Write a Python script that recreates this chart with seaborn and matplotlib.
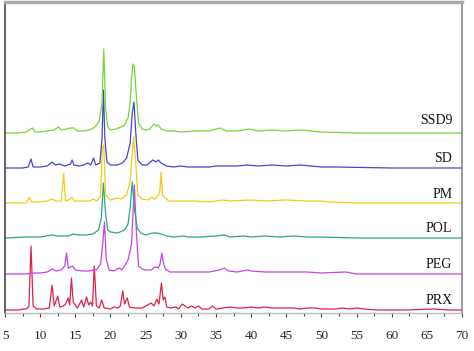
import matplotlib
matplotlib.use("Agg")
import matplotlib.pyplot as plt
from matplotlib.ticker import MultipleLocator
import seaborn as sns
import pandas as pd

# ---- data (2-theta positions and intensities above each trace's baseline) ----
samples = ["PRX", "PEG", "POL", "PM", "SD", "SSD9"]

prx_x = [5.0, 7.0, 7.5, 8.0, 8.4, 8.7, 9.0, 9.5, 10.5, 11.3, 11.7, 12.0, 12.5, 12.8, 13.3, 13.6,
         14.0, 14.2, 14.45, 14.7, 15.3, 15.9, 16.2, 16.6, 16.9, 17.2, 17.45, 17.7, 18.0, 18.4,
         18.75, 19.1, 20.0, 20.5, 21.0, 21.4, 21.75, 22.0, 22.4, 22.7, 23.5, 24.5, 25.3, 25.8,
         26.2, 26.6, 26.9, 27.25, 27.5, 27.75, 28.0, 28.6, 29.3, 29.7, 30.2, 30.6, 31.0, 31.5,
         32.0, 32.5, 33.0, 34.0, 34.5, 35.0, 36.0, 37.0, 38.0, 39.0, 40.0, 41.0, 42.0, 43.0,
         44.0, 45.0, 46.0, 47.0, 48.0, 49.0, 50.0, 52.0, 53.0, 54.0, 55.0, 56.0, 58.0, 62.0,
         66.0, 68.0, 70.0]
prx_y = [0, 0, 1, 1, 3, 64, 4, 1, 1, 2, 25, 4, 14, 3, 4, 6,
         12, 5, 32, 8, 2, 10, 3, 13, 5, 8, 4, 44, 4, 2,
         10, 2, 1, 3, 2, 4, 19, 6, 12, 3, 2, 2, 5, 7,
         4, 11, 6, 27, 10, 13, 3, 2, 3, 1, 6, 4, 2, 4,
         2, 4, 1, 1, 4, 1, 2, 3, 2, 2, 3, 2, 3, 2,
         2, 2, 2, 1, 2, 2, 1, 1, 2, 1, 2, 1, 0, 0,
         1, 0, 0]

peg_x = [5.0, 8.0, 9.0, 10.0, 11.0, 11.7, 12.3, 13.0, 13.5, 13.75, 14.0, 14.6, 15.0, 16.0, 17.0,
         17.5, 18.0, 18.6, 18.9, 19.15, 19.4, 19.8, 20.5, 21.0, 21.3, 21.6, 22.0, 22.5, 23.0,
         23.4, 23.7, 24.0, 24.5, 25.0, 25.8, 26.3, 26.8, 27.05, 27.3, 27.5, 27.8, 28.5, 30.0,
         32.0, 34.0, 35.5, 36.2, 36.8, 38.0, 39.5, 40.0, 42.0, 45.0, 48.0, 50.0, 53.5, 55.0,
         60.0, 70.0]
peg_y = [0, 0, 1, 1, 2, 5, 3, 4, 8, 21, 6, 8, 4, 3, 3,
         4, 4, 10, 30, 52, 15, 4, 3, 5, 6, 4, 8, 14, 30,
         89, 40, 8, 5, 4, 4, 7, 6, 10, 21, 12, 5, 2, 2,
         2, 2, 4, 6, 3, 2, 4, 3, 2, 2, 2, 1, 2, 0,
         0, 0]

pol_x = [5.0, 8.0, 9.0, 10.0, 11.7, 12.5, 14.0, 14.7, 15.5, 16.5, 17.5, 18.3, 18.7, 19.0, 19.3,
         19.6, 20.0, 21.0, 22.0, 22.5, 22.8, 23.1, 23.4, 23.8, 24.3, 25.0, 26.0, 26.6, 27.2,
         28.0, 29.0, 30.5, 31.0, 33.0, 35.0, 36.2, 37.0, 39.0, 40.0, 42.0, 44.0, 46.0, 48.0,
         50.0, 55.0, 70.0]
pol_y = [0, 1, 1, 1, 3, 2, 2, 4, 3, 3, 4, 8, 20, 55, 25,
         8, 6, 5, 8, 14, 30, 56, 30, 10, 5, 3, 5, 5, 4,
         2, 1, 2, 1, 1, 2, 3, 1, 2, 1, 2, 1, 2, 1,
         1, 0, 0]

pm_x = [5.0, 8.0, 8.5, 8.8, 10.0, 11.0, 11.7, 12.2, 13.0, 13.35, 13.6, 14.3, 14.5, 14.8, 16.0,
        17.0, 17.6, 18.0, 18.6, 18.85, 19.05, 19.3, 20.0, 21.0, 21.5, 22.3, 22.8, 23.1, 23.3,
        23.6, 23.9, 24.5, 25.3, 25.9, 26.3, 26.6, 27.0, 27.2, 27.4, 27.8, 28.3, 30.0, 32.0,
        34.0, 36.0, 37.0, 40.0, 42.0, 45.0, 48.0, 50.0, 51.0, 55.0, 70.0]
pm_y = [0, 0, 6, 1, 1, 2, 4, 2, 2, 30, 2, 4, 6, 2, 2,
        2, 4, 2, 6, 55, 58, 8, 3, 5, 4, 8, 22, 50, 66,
        40, 8, 4, 3, 6, 4, 6, 10, 31, 8, 5, 2, 2, 2,
        1, 3, 2, 3, 2, 3, 2, 2, 1, 0, 0]

sd_x = [5.0, 7.5, 8.3, 8.7, 9.0, 10.0, 11.0, 11.7, 12.2, 12.8, 13.5, 14.3, 14.55, 14.8, 15.5,
        16.2, 16.8, 17.2, 17.6, 17.9, 18.5, 18.8, 19.0, 19.2, 19.5, 20.0, 21.0, 21.7, 22.3,
        22.8, 23.1, 23.35, 23.6, 23.9, 24.5, 25.2, 26.0, 26.5, 26.8, 27.2, 28.0, 29.0, 30.0,
        31.0, 32.0, 33.0, 34.0, 35.0, 36.0, 38.0, 39.5, 41.0, 43.0, 45.0, 47.0, 48.5, 50.0,
        52.0, 60.0, 70.0]
sd_y = [0, 0, 1, 9, 1, 1, 2, 6, 3, 4, 2, 4, 8, 3, 2,
        3, 5, 3, 10, 3, 5, 30, 78, 30, 6, 3, 3, 5, 10,
        25, 55, 66, 35, 8, 3, 3, 8, 6, 8, 5, 2, 1, 2,
        1, 1, 1, 1, 2, 2, 2, 3, 2, 3, 2, 3, 2, 1,
        1, 0, 0]

ssd9_x = [5.0, 7.0, 8.0, 8.9, 9.3, 10.0, 11.0, 12.0, 12.6, 13.0, 13.8, 14.2, 14.8, 15.3, 16.0,
          17.0, 17.8, 18.4, 18.8, 19.05, 19.3, 19.6, 20.0, 20.8, 21.5, 22.0, 22.5, 22.8, 23.0,
          23.2, 23.4, 23.7, 24.0, 24.5, 25.0, 25.6, 26.2, 26.5, 26.8, 27.2, 28.0, 29.0, 30.0,
          32.0, 34.0, 35.6, 36.5, 38.0, 39.7, 41.0, 43.0, 45.0, 47.0, 50.0, 55.0, 70.0]
ssd9_y = [0, 0, 1, 5, 1, 1, 2, 3, 6, 3, 4, 5, 5, 2, 2,
          3, 6, 12, 30, 84, 25, 6, 3, 4, 6, 8, 15, 30, 55,
          69, 66, 35, 10, 4, 3, 4, 9, 7, 8, 4, 2, 2, 1,
          2, 2, 5, 2, 2, 4, 2, 3, 2, 3, 1, 0, 0]

x_ticks = [5, 10, 15, 20, 25, 30, 35, 40, 45, 50, 55, 60, 65, 70]

# ---- styling / layout ----
offsets = {"PRX": 3, "PEG": 39, "POL": 75, "PM": 110, "SD": 145, "SSD9": 180}
label_y = {"PRX": 12, "PEG": 49, "POL": 84, "PM": 119, "SD": 154, "SSD9": 192}
colors = {"PRX": "#e0224a", "PEG": "#c545e6", "POL": "#2aa88a",
          "PM": "#f2cc1a", "SD": "#4646d0", "SSD9": "#72d834"}

series = {"PRX": (prx_x, prx_y), "PEG": (peg_x, peg_y), "POL": (pol_x, pol_y),
          "PM": (pm_x, pm_y), "SD": (sd_x, sd_y), "SSD9": (ssd9_x, ssd9_y)}

frames = []
for name in samples:
    xs, ys = series[name]
    frames.append(pd.DataFrame({"two_theta": xs,
                                "intensity": [v + offsets[name] for v in ys],
                                "sample": name}))
df = pd.concat(frames, ignore_index=True)

sns.set_style("white")
plt.rcParams["font.family"] = ["Liberation Serif", "DejaVu Serif"]

fig = plt.figure(figsize=(4.74, 3.51), dpi=100)
ax = fig.add_axes([5 / 474, 38 / 351, 457 / 474, 311.5 / 351])

sns.lineplot(data=df, x="two_theta", y="intensity", hue="sample", hue_order=samples,
             palette=colors, estimator=None, sort=False, legend=False, linewidth=0.9, ax=ax)

for name in samples:
    ax.text(68.6, label_y[name], name, ha="right", va="center", fontsize=10, color="#111111")

ax.set_xlim(5, 70)
ax.set_ylim(0, 311.5)
ax.set_xticks(x_ticks)
ax.set_xticklabels([str(t) for t in x_ticks])
ax.xaxis.set_minor_locator(MultipleLocator(2.5))
ax.set_yticks([])
ax.set_xlabel("")
ax.set_ylabel("")
ax.tick_params(axis="x", which="both", direction="out", length=3, width=0.8,
               color="#444444", labelsize=9.5, pad=9, bottom=True)
ax.tick_params(axis="x", which="minor", length=2.5)

ax.spines["left"].set_color("#555555")
ax.spines["left"].set_linewidth(1.3)
ax.spines["right"].set_color("#888888")
ax.spines["right"].set_linewidth(1.2)
ax.spines["top"].set_color("#aaaaaa")
ax.spines["top"].set_linewidth(2.5)
ax.spines["bottom"].set_color("#bbbbbb")
ax.spines["bottom"].set_linewidth(1.0)

fig.savefig("out.png", dpi=100)
